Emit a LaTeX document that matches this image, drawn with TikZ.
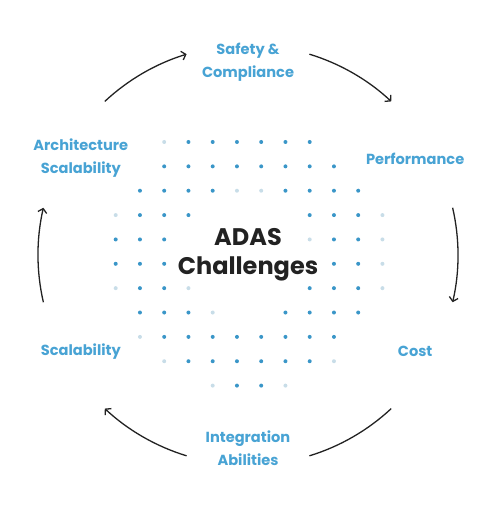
\documentclass[tikz,border=0pt]{standalone}
\usepackage{fontspec}
\setmainfont{Poppins}
\usetikzlibrary{arrows.meta}
\definecolor{lblue}{RGB}{72,163,212}
\definecolor{dblue}{RGB}{58,150,200}
\definecolor{fblue}{RGB}{200,221,232}
\definecolor{ink}{RGB}{34,34,34}

\begin{document}
\begin{tikzpicture}[x=1pt, y=1pt,
    label/.style = {align=center, text=lblue, inner sep=0pt,
      font=\fontsize{14.6}{23}\selectfont\bfseries},
    cycle/.style = {draw=ink, line width=1.3pt,
      -{Straight Barb[length=4pt, width=9pt, line width=1.3pt]}},
    plain/.style = {draw=ink, line width=1.3pt},
    dot/.style = {fill=dblue, circle, inner sep=0pt, minimum size=4pt},
    fdot/.style = {fill=fblue, circle, inner sep=0pt, minimum size=4pt}]
  \useasboundingbox (0,0) rectangle (497,-510);
  \coordinate (c) at (248,-255);

  \foreach \r/\blue/\faint in {0/{3,...,8}/{2}, 1/{2,...,9}/{},
      2/{1,2,3,4,7,8,9,10}/{5,6}, 3/{1,2,3,8,9,10}/{0,11},
      4/{0,1,2,9,10}/{8,11}, 5/{0,1,2,9,10}/{11},
      6/{1,2,8,9,10}/{0,3,11}, 7/{1,2,3,7,8,9,10}/{4},
      8/{2,...,9}/{1}, 9/{3,...,8}/{2,9}, 10/{5,6}/{4,7}}{
    \foreach \k in \blue
      \node[dot] (d-\r-\k) at (115.7+24.25*\k, -142-24.36*\r) {};
    \foreach \k in \faint
      \node[fdot] (d-\r-\k) at (115.7+24.25*\k, -142-24.36*\r) {};
  }

  \node[align=center, text=ink, inner sep=0pt,
    font=\fontsize{24}{29}\selectfont\bfseries] (adas) at (248,-255)
    {ADAS\\Challenges};

  \node[label] (safety) at ([shift={(90:193)}]c) {Safety \&\\Compliance};
  \node[label] (perf) at ([shift={(30:193)}]c) {Performance};
  \node[label] (cost) at ([shift={(-30:193)}]c) {Cost};
  \node[label] (integ) at ([shift={(-90:193)}]c) {Integration\\Abilities};
  \node[label] (scal) at ([shift={(-150:193)}]c) {Scalability};
  \node[label] (arch) at ([shift={(150:193)}]c) {Architecture\\Scalability};

  \foreach \a/\s in {120/cycle, 60/cycle, 0/cycle, -60/plain, -120/cycle, 180/cycle}{
    \coordinate (a\a) at ([shift={(\a+13:210)}]c);
    \draw[\s] (a\a) arc[start angle=\a+13, end angle=\a-13, radius=210];
  }
\end{tikzpicture}
\end{document}
